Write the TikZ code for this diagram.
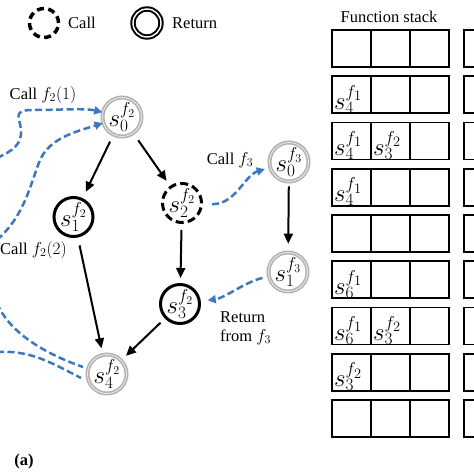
\documentclass[tikz,border=0pt]{standalone}
\usepackage{fontspec}
\setmainfont{Liberation Serif}
\usetikzlibrary{arrows.meta}
\definecolor{cblue}{RGB}{59,120,190}
\begin{document}
\begin{tikzpicture}[x=1pt,y=-1pt,
  st/.style={circle, minimum size=39pt, inner sep=0pt, font=\fontsize{25}{25}\selectfont},
  gst/.style={st, draw=gray!60, double=gray!15, double distance=0.8pt, line width=1.6pt},
  bst/.style={st, draw=black, line width=3pt},
  dst/.style={st, draw=black, line width=3pt, dash pattern=on 8pt off 4.2pt},
  arr/.style={line width=2pt, -{Triangle[length=10pt,width=9pt]}},
  bl/.style={cblue, line width=2.5pt, dash pattern=on 7pt off 3.5pt},
  blarr/.style={bl, -{Triangle[length=8pt,width=8pt]}},
  lbl/.style={font=\fontsize{16.5}{19}\selectfont, inner sep=0pt},
  cellc/.style={font=\fontsize{27}{27}\selectfont, inner sep=0pt, anchor=south west},
  cellbox/.style={line width=1.8pt}
]
\useasboundingbox (0,0) rectangle (474,474);
\fill[white] (0,0) rectangle (474,474);

% legend
\node[circle, minimum size=29pt, inner sep=0pt, draw=black, line width=3.5pt, dash pattern=on 7pt off 4.4pt] (lc) at (44,23) {};
\node[lbl, anchor=west] (lct) at (68,23) {Call};
\node[circle, minimum size=28pt, inner sep=0pt, draw=black, double=white, double distance=1.4pt, line width=2pt] (lr) at (147,23) {};
\node[lbl, anchor=west] (lrt) at (172,23) {Return};

% states
\node[gst] (s0) at (122,117) {$s_0^{f_2}$};
\node[bst] (s1) at (73.5,217) {$s_1^{f_2}$};
\node[dst] (s2) at (182,203) {$s_2^{f_2}$};
\node[bst] (s3) at (180,304) {$s_3^{f_2}$};
\node[gst] (s4) at (107,374) {$s_4^{f_2}$};
\node[gst] (t0) at (289,162) {$s_0^{f_3}$};
\node[gst] (t1) at (288,272) {$s_1^{f_3}$};

% black arrows
\draw[arr, shorten <=7pt, shorten >=7pt] (s0) -- (s1);
\draw[arr, shorten <=8pt, shorten >=6pt] (s0) -- (s2);
\draw[arr, shorten <=6pt, shorten >=5pt] (s2) -- (s3);
\draw[arr, shorten <=8pt, shorten >=6pt] (s1) -- (s4);
\draw[arr, shorten <=6pt, shorten >=6pt] (s3) -- (s4);
\draw[arr, shorten <=4pt, shorten >=8pt] (t0) -- (t1);

% labels
\node[lbl] (lab1) at (43,95) {Call $f_2(1)$};
\node[lbl, anchor=west] (lab2) at (0,250) {Call $f_2(2)$};
\node[lbl] (lab3) at (230,160) {Call $f_3$};
\node[lbl, align=left, anchor=north west] (lab4) at (220,311) {Return\\from $f_3$};
\node[font=\fontsize{16.5}{19}\selectfont\bfseries, inner sep=0pt] (lab5) at (24,462) {(a)};

% blue dashed curves
\coordinate (c1s) at (-3,158);
\coordinate (c2s) at (-3,240);
\coordinate (c3s) at (-3,303);
\coordinate (c3e) at (83,367);
\coordinate (c4s) at (-3,352);
\coordinate (c4e) at (81,378);
\draw[blarr] (c1s) .. controls (12,151) and (22,145) .. (21,130)
  .. controls (20,118) and (12,110) .. (32,110)
  .. controls (60,110) and (85,108) .. (s0);
\draw[blarr] (c2s) .. controls (25,215) and (30,185) .. (40,160)
  .. controls (50,138) and (75,132) .. (s0);
\draw[bl] (c3s) .. controls (8,330) and (40,352) .. (c3e);
\draw[bl] (c4s) .. controls (30,350) and (50,362) .. (c4e);
\draw[blarr, shorten <=9pt, shorten >=5pt] (s2) .. controls (235,205) and (245,175) .. (t0);
\draw[blarr, shorten <=6pt, shorten >=7pt] (t1) .. controls (245,282) and (225,298) .. (s3);

% function stack
\node[lbl] (fst) at (389,17) {Function stack};
\foreach \i in {0,...,8}{
  \pgfmathsetmacro{\ya}{30+\i*46.25}
  \pgfmathsetmacro{\yb}{\ya+37}
  \draw[cellbox] (332,\ya) rectangle (449,\yb) (371,\ya) -- (371,\yb) (410,\ya) -- (410,\yb);
  \draw[cellbox] (464,\ya) rectangle (581,\yb) (503,\ya) -- (503,\yb);
}
\node[cellc] (c21) at (334,113.5) {$s_4^{f_1}$};
\node[cellc] (c31) at (334,159.8) {$s_4^{f_1}$};
\node[cellc] (c32) at (373,159.8) {$s_3^{f_2}$};
\node[cellc] (c41) at (334,206) {$s_4^{f_1}$};
\node[cellc] (c61) at (334,298.5) {$s_6^{f_1}$};
\node[cellc] (c71) at (334,344.8) {$s_6^{f_1}$};
\node[cellc] (c72) at (373,344.8) {$s_3^{f_2}$};
\node[cellc] (c81) at (334,391) {$s_3^{f_2}$};
\end{tikzpicture}
\end{document}
